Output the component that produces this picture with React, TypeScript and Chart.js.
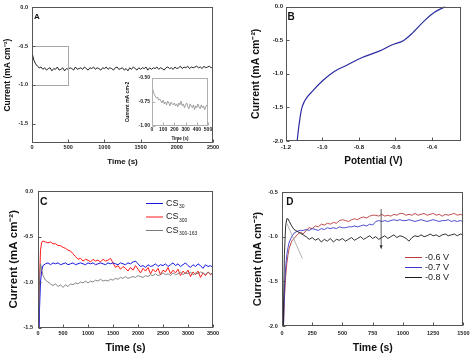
import React, { useEffect, useRef } from "react";
import { Chart, registerables } from "chart.js";

Chart.register(...registerables);

const FONT = "'Liberation Sans', Arial, Helvetica, sans-serif";

// ---------- Panel A: chronoamperometry 0-2500 s (sampled every 25 s) ----------
const aTime: number[] = Array.from({ length: 101 }, (_, i) => i * 25);
const aCurrent: number[] = [
  -0.58, -0.68, -0.73, -0.76, -0.78, -0.77, -0.80, -0.78, -0.81, -0.79, -0.78, -0.82, -0.79, -0.80, -0.77, -0.81, -0.80, -0.78, -0.82, -0.79,
  -0.80, -0.78, -0.79, -0.81, -0.77, -0.80, -0.79, -0.78, -0.80, -0.77, -0.79, -0.81, -0.78, -0.79, -0.77, -0.80, -0.78, -0.79, -0.81, -0.78,
  -0.79, -0.77, -0.80, -0.78, -0.79, -0.81, -0.78, -0.77, -0.80, -0.79, -0.78, -0.81, -0.79, -0.82, -0.78, -0.80, -0.77, -0.79, -0.81, -0.78,
  -0.80, -0.78, -0.79, -0.77, -0.81, -0.78, -0.80, -0.78, -0.79, -0.77, -0.80, -0.78, -0.79, -0.81, -0.78, -0.77, -0.79, -0.78, -0.80, -0.77,
  -0.79, -0.78, -0.76, -0.79, -0.77, -0.78, -0.76, -0.79, -0.77, -0.78, -0.77, -0.76, -0.78, -0.77, -0.79, -0.76, -0.78, -0.77, -0.76, -0.78, -0.77,
];
const aZoomBox = { x0: 0, x1: 500, y0: -0.5, y1: -1.0 };

// Inset: first 500 s (every 10 s)
const insetTime: number[] = Array.from({ length: 51 }, (_, i) => i * 10);
const insetCurrent: number[] = [
  -0.60, -0.63, -0.67, -0.69, -0.71, -0.70, -0.73, -0.72, -0.74, -0.76,
  -0.73, -0.77, -0.75, -0.78, -0.74, -0.76, -0.79, -0.75, -0.77, -0.78,
  -0.76, -0.79, -0.77, -0.80, -0.76, -0.78, -0.74, -0.79, -0.77, -0.81,
  -0.78, -0.76, -0.80, -0.82, -0.77, -0.79, -0.81, -0.78, -0.83, -0.79,
  -0.81, -0.77, -0.80, -0.82, -0.78, -0.81, -0.79, -0.83, -0.80, -0.78, -0.79,
];

// ---------- Panel B: linear sweep ----------
const bPotential: number[] = [-1.139, -1.128, -1.115, -1.097, -1.052, -0.998, -0.935, -0.872, -0.782, -0.692, -0.62, -0.557, -0.512, -0.44, -0.386, -0.326];
const bCurrent: number[] = [-2.0, -1.75, -1.53, -1.4, -1.25, -1.1, -0.965, -0.88, -0.757, -0.667, -0.572, -0.507, -0.408, -0.209, -0.085, 0.0];
const bPotentialTicks: number[] = [-1.2, -1.0, -0.8, -0.6, -0.4];

// ---------- Panel C: three samples 0-3500 s ----------
const cTimeEarly: number[] = [15, 30, 50, 75, 100];
const cTime: number[] = cTimeEarly.concat(Array.from({ length: 68 }, (_, i) => 150 + i * 50));
const cCS30: number[] = [
  -1.7, -1.3, -1.0, -0.87, -0.82,
  -0.80, -0.79, -0.81, -0.79, -0.80, -0.79, -0.81, -0.80, -0.79, -0.81, -0.80, -0.79, -0.81, -0.80, -0.79, -0.80, -0.81, -0.79, -0.80, -0.79, -0.81, -0.80, -0.79, -0.80, -0.81, -0.79, -0.80, -0.79,
  -0.80, -0.81, -0.79, -0.80, -0.81, -0.79, -0.80, -0.78, -0.77, -0.80, -0.83, -0.82, -0.84, -0.81, -0.83, -0.82, -0.80, -0.83, -0.81, -0.82,
  -0.80, -0.83, -0.81, -0.79, -0.82, -0.80, -0.83, -0.81, -0.79, -0.82, -0.84, -0.81, -0.83, -0.80, -0.82, -0.85, -0.81, -0.83, -0.82, -0.84,
];
const cCS300: number[] = [
  -1.6, -1.0, -0.65, -0.56, -0.55,
  -0.56, -0.57, -0.56, -0.58, -0.58, -0.60, -0.60, -0.62, -0.63, -0.65, -0.66, -0.69, -0.72, -0.75, -0.74, -0.77, -0.75, -0.76, -0.78, -0.75, -0.77, -0.76, -0.78, -0.75, -0.77, -0.76, -0.74, -0.79,
  -0.84, -0.82, -0.86, -0.83, -0.85, -0.88, -0.84, -0.87, -0.82, -0.86, -0.90, -0.85, -0.88, -0.84, -0.91, -0.86, -0.89, -0.85, -0.92, -0.87,
  -0.89, -0.84, -0.91, -0.87, -0.90, -0.86, -0.93, -0.88, -0.91, -0.87, -0.94, -0.89, -0.92, -0.88, -0.95, -0.90, -0.93, -0.89, -0.92, -0.90,
];
const cCS300163: number[] = [
  -1.4, -0.95, -0.80, -0.86, -0.93,
  -0.98, -1.00, -1.02, -1.04, -1.02, -1.05, -1.03, -1.06, -1.03, -1.05, -1.02, -1.03, -1.01, -1.02, -1.00, -1.01, -0.99, -1.01, -0.99, -1.00, -0.98, -0.99, -0.97, -0.99, -0.98, -0.99, -0.97, -0.98,
  -0.96, -0.97, -0.95, -0.96, -0.94, -0.96, -0.95, -0.94, -0.95, -0.93, -0.94, -0.95, -0.93, -0.94, -0.92, -0.93, -0.91, -0.93, -0.92, -0.90,
  -0.92, -0.91, -0.93, -0.90, -0.92, -0.91, -0.89, -0.92, -0.90, -0.91, -0.89, -0.92, -0.90, -0.91, -0.89, -0.90, -0.92, -0.89, -0.91, -0.90,
];
const cLabels = [
  { main: "CS", sub: "30", color: "#1818e0" },
  { main: "CS", sub: "300", color: "#ff1a1a" },
  { main: "CS", sub: "300-163", color: "#7a7a7a" },
];

// ---------- Panel D: three potentials 0-1500 s ----------
const dTimeEarly: number[] = [10, 20, 30, 40, 50, 60, 80, 100, 125, 150];
const dTime: number[] = dTimeEarly.concat(Array.from({ length: 54 }, (_, i) => 175 + i * 25));
const dMinus06: number[] = [
  -2.1, -1.7, -1.45, -1.3, -1.2, -1.13, -1.05, -1.02, -0.98, -0.95,
  -0.97, -0.93, -0.90, -0.91, -0.88, -0.89, -0.86, -0.87, -0.85, -0.86, -0.84, -0.85, -0.82, -0.81,
  -0.82, -0.83, -0.81, -0.80, -0.81, -0.79, -0.78, -0.79, -0.77, -0.76, -0.76, -0.77, -0.75, -0.77, -0.76, -0.77, -0.75, -0.76, -0.74, -0.74,
  -0.76, -0.75, -0.76, -0.74, -0.76, -0.75, -0.74, -0.76, -0.75, -0.74, -0.76, -0.75, -0.77, -0.75, -0.76, -0.75, -0.74, -0.76, -0.75, -0.76,
];
const dMinus07: number[] = [
  -2.1, -1.6, -1.35, -1.2, -1.12, -1.06, -1.0, -0.96, -0.94, -0.93,
  -0.93, -0.92, -0.93, -0.91, -0.92, -0.93, -0.91, -0.92, -0.90, -0.91, -0.90, -0.91, -0.89, -0.90,
  -0.90, -0.89, -0.89, -0.88, -0.89, -0.88, -0.87, -0.88, -0.86, -0.87, -0.83, -0.82, -0.83, -0.82, -0.83, -0.82, -0.81, -0.82, -0.81, -0.82,
  -0.82, -0.81, -0.82, -0.83, -0.82, -0.81, -0.82, -0.83, -0.82, -0.81, -0.82, -0.83, -0.82, -0.82, -0.81, -0.83, -0.82, -0.83, -0.82, -0.83,
];
const dMinus08: number[] = [
  -2.0, -1.2, -0.88, -0.80, -0.80, -0.83, -0.88, -0.92, -0.94, -0.96,
  -0.98, -1.00, -1.03, -1.01, -1.04, -1.02, -1.06, -1.03, -1.05, -1.02, -1.06, -1.03, -1.04, -1.02,
  -1.05, -1.03, -1.01, -1.04, -1.02, -1.00, -1.03, -1.01, -0.99, -1.02, -1.00, -1.03, -1.01, -0.99, -1.02, -1.00, -0.98, -1.01, -0.99, -1.00,
  -1.02, -1.05, -1.01, -0.99, -1.00, -0.98, -1.00, -0.99, -0.97, -0.99, -0.98, -1.00, -0.98, -0.97, -0.99, -0.98, -0.97, -0.99, -0.97, -0.98,
];
const dLabels = [
  { main: "-0.6 V", color: "#b83a3a" },
  { main: "-0.7 V", color: "#3a3ac8" },
  { main: "-0.8 V", color: "#1a1a1a" },
];
// annotation arrows (data coordinates)
const dArrows = [
  { x0: 41, y0: -0.855, x1: 169, y1: -1.246, color: "#a0a0a0", head: false },
  { x0: 820, y0: -0.69, x1: 820, y1: -1.13, color: "#333333", head: true },
];

const YTITLE = "Current (mA cm\u207B\u00B2)";

// ---------- helpers ----------
const pts = (xs: number[], ys: number[]) => ys.map((y, i) => ({ x: xs[i], y }));

type AxisSpec = {
  min: number; max: number; step: number; dec: number; title: string;
  titleSize: number; titlePad: number; tickSize: number; tickPad: number; size: number;
  tickList?: number[];
};

function axis(s: AxisSpec, horizontal: boolean) {
  return {
    type: "linear",
    min: s.min,
    max: s.max,
    afterFit: (sc: any) => {
      if (horizontal) sc.height = s.size;
      else sc.width = s.size;
    },
    afterBuildTicks: (sc: any) => {
      if (s.tickList) sc.ticks = s.tickList.map((v) => ({ value: v }));
    },
    ticks: {
      stepSize: s.step,
      includeBounds: false,
      autoSkip: false,
      maxRotation: 0,
      padding: s.tickPad,
      color: "#222",
      font: { family: FONT, size: s.tickSize, weight: "bold" },
      callback: (v: any) => Number(v).toFixed(s.dec),
    },
    grid: { display: true, drawOnChartArea: false, drawTicks: false },
    border: { display: false },
    title: {
      display: true,
      text: s.title,
      color: "#111",
      font: { family: FONT, size: s.titleSize, weight: "bold" },
      padding: horizontal ? { top: 0, bottom: s.titlePad } : { top: s.titlePad, bottom: 0 },
    },
  };
}

const decoPlugin = {
  id: "deco",
  afterDraw(chart: any, _a: any, o: any) {
    const { ctx, chartArea: ca, scales } = chart;
    const sx = scales.x, sy = scales.y;
    ctx.save();
    const L = Math.round(ca.left) + 0.5, R = Math.round(ca.right) - 0.5;
    const T = Math.round(ca.top) + 0.5, B = Math.round(ca.bottom) - 0.5;
    (o.rects || []).forEach((r: any) => {
      const x0 = Math.round(sx.getPixelForValue(r.x0)) + 0.5, x1 = Math.round(sx.getPixelForValue(r.x1)) + 0.5;
      const y0 = Math.round(sy.getPixelForValue(r.y0)) + 0.5, y1 = Math.round(sy.getPixelForValue(r.y1)) + 0.5;
      ctx.strokeStyle = r.color; ctx.lineWidth = 1;
      ctx.strokeRect(x0, y0, x1 - x0, y1 - y0);
    });
    (o.arrows || []).forEach((a: any) => {
      const x0 = sx.getPixelForValue(a.x0), y0 = sy.getPixelForValue(a.y0);
      const x1 = sx.getPixelForValue(a.x1), y1 = sy.getPixelForValue(a.y1);
      ctx.strokeStyle = a.color; ctx.lineWidth = 0.8;
      ctx.beginPath(); ctx.moveTo(x0, y0); ctx.lineTo(x1, y1); ctx.stroke();
      if (a.head) {
        ctx.fillStyle = a.color;
        ctx.beginPath(); ctx.moveTo(x1, y1 + 1); ctx.lineTo(x1 - 1.5, y1 - 3); ctx.lineTo(x1 + 1.5, y1 - 3); ctx.closePath(); ctx.fill();
      }
    });
    ctx.strokeStyle = o.frame || "#555"; ctx.lineWidth = 1;
    ctx.strokeRect(L, T, R - L, B - T);
    ctx.beginPath();
    sx.ticks.forEach((t: any) => {
      const p = Math.round(sx.getPixelForValue(t.value)) + 0.5;
      ctx.moveTo(p, B); ctx.lineTo(p, B - 3);
    });
    sy.ticks.forEach((t: any) => {
      const p = Math.round(sy.getPixelForValue(t.value)) + 0.5;
      ctx.moveTo(L, p); ctx.lineTo(L + 3, p);
    });
    ctx.stroke();
    if (o.letter) {
      ctx.fillStyle = "#111";
      ctx.font = `bold ${o.letter.size}px ${FONT}`;
      ctx.textBaseline = "alphabetic"; ctx.textAlign = "left";
      ctx.fillText(o.letter.text, ca.left + o.letter.dx, ca.top + o.letter.dy);
    }
    if (o.legend) {
      const lg = o.legend;
      lg.items.forEach((it: any, i: number) => {
        const y = lg.rows[i];
        ctx.strokeStyle = it.color; ctx.lineWidth = 1;
        ctx.beginPath(); ctx.moveTo(lg.x0, y + 0.5); ctx.lineTo(lg.x1, y + 0.5); ctx.stroke();
        ctx.fillStyle = "#222";
        ctx.font = `${lg.size}px ${FONT}`;
        ctx.textBaseline = "middle"; ctx.textAlign = "left";
        ctx.fillText(it.main, lg.tx, y + 0.5);
        if (it.sub) {
          const w = ctx.measureText(it.main).width;
          ctx.font = `${lg.subSize}px ${FONT}`;
          ctx.fillText(it.sub, lg.tx + w + 0.5, y + 4);
        }
      });
    }
    ctx.restore();
  },
};

function lineDs(data: any[], color: string, width = 1, extra: any = {}) {
  return {
    data,
    borderColor: color,
    backgroundColor: color,
    borderWidth: width,
    pointRadius: 0,
    tension: 0,
    fill: false,
    ...extra,
  };
}

function build(canvas: HTMLCanvasElement, datasets: any[], xs: AxisSpec, ys: AxisSpec, padding: any, deco: any) {
  return new Chart(canvas, {
    type: "line",
    data: { datasets },
    options: {
      responsive: false,
      animation: false,
      devicePixelRatio: 1,
      layout: { padding },
      plugins: { legend: { display: false }, tooltip: { enabled: false }, deco } as any,
      scales: { x: axis(xs, true), y: axis(ys, false) } as any,
    },
    plugins: [decoPlugin],
  } as any);
}

export default function App() {
  const aRef = useRef<HTMLCanvasElement>(null);
  const insRef = useRef<HTMLCanvasElement>(null);
  const bRef = useRef<HTMLCanvasElement>(null);
  const cRef = useRef<HTMLCanvasElement>(null);
  const dRef = useRef<HTMLCanvasElement>(null);

  useEffect(() => {
    const charts: Chart[] = [];
    charts.push(
      build(
        aRef.current!,
        [lineDs(pts(aTime, aCurrent), "#111", 0.9)],
        { min: 0, max: 2500, step: 500, dec: 0, title: "Time (s)", titleSize: 8, titlePad: 10.5, tickSize: 5.5, tickPad: 1.5, size: 34 },
        { min: -1.75, max: 0, step: 0.5, dec: 1, title: YTITLE, titleSize: 8.5, titlePad: 3, tickSize: 5.5, tickPad: 4, size: 32 },
        { left: 0, top: 6, right: 24, bottom: 0 },
        { letter: { text: "A", size: 8, dx: 2, dy: 12 }, rects: [{ ...aZoomBox, color: "#a8a8a8" }] }
      )
    );
    charts.push(
      build(
        insRef.current!,
        [lineDs(pts(insetTime, insetCurrent), "#8a8a8a", 0.8)],
        { min: 0, max: 500, step: 100, dec: 0, title: "Time (s)", titleSize: 4.5, titlePad: 3, tickSize: 5, tickPad: 1, size: 18 },
        { min: -1.0, max: -0.5, step: 0.25, dec: 2, title: "Current mA cm-2", titleSize: 5, titlePad: 4.5, tickSize: 5, tickPad: 2, size: 32 },
        { left: 0, top: 6, right: 7, bottom: 0 },
        { frame: "#b0b0b0" }
      )
    );
    charts.push(
      build(
        bRef.current!,
        [lineDs(pts(bPotential, bCurrent), "#2c2ca0", 1.2, { cubicInterpolationMode: "monotone" })],
        { min: -1.2, max: -0.24, step: 0.2, dec: 1, title: "Potential (V)", titleSize: 10, titlePad: 10, tickSize: 6, tickPad: 2.5, size: 36, tickList: bPotentialTicks },
        { min: -2, max: 0, step: 0.5, dec: 1, title: YTITLE, titleSize: 10.5, titlePad: 13, tickSize: 6, tickPad: 3, size: 49 },
        { left: 0, top: 6, right: 13, bottom: 0 },
        { letter: { text: "B", size: 10, dx: 1.5, dy: 13 } }
      )
    );
    charts.push(
      build(
        cRef.current!,
        [
          lineDs(pts(cTime, cCS300163), cLabels[2].color, 0.9),
          lineDs(pts(cTime, cCS30), cLabels[0].color, 1),
          lineDs(pts(cTime, cCS300), cLabels[1].color, 1),
        ],
        { min: 0, max: 3500, step: 500, dec: 0, title: "Time (s)", titleSize: 10.5, titlePad: 0, tickSize: 5.5, tickPad: 2.8, size: 26.5 },
        { min: -1.5, max: 0, step: 0.5, dec: 1, title: YTITLE, titleSize: 11.5, titlePad: 7, tickSize: 5.5, tickPad: 5, size: 38 },
        { left: 0, top: 14, right: 24, bottom: 0 },
        {
          letter: { text: "C", size: 10.5, dx: 2, dy: 14.3 },
          legend: { x0: 146, x1: 163, tx: 166, rows: [26, 39.5, 53], size: 9, subSize: 5, items: cLabels },
        }
      )
    );
    charts.push(
      build(
        dRef.current!,
        [
          lineDs(pts(dTime, dMinus08), dLabels[2].color, 0.9),
          lineDs(pts(dTime, dMinus07), dLabels[1].color, 0.9),
          lineDs(pts(dTime, dMinus06), dLabels[0].color, 0.9),
        ],
        { min: 0, max: 1500, step: 250, dec: 0, title: "Time (s)", titleSize: 10.5, titlePad: 0, tickSize: 5.5, tickPad: 4.5, size: 28 },
        { min: -2.0, max: -0.5, step: 0.5, dec: 1, title: YTITLE, titleSize: 11, titlePad: 14.4, tickSize: 5.5, tickPad: 4.3, size: 45 },
        { left: 0, top: 15, right: 8, bottom: 0 },
        {
          letter: { text: "D", size: 10, dx: 4.3, dy: 12.7 },
          arrows: dArrows,
          legend: { x0: 168, x1: 185, tx: 188, rows: [80, 90, 100], size: 9, subSize: 5, items: dLabels },
        }
      )
    );
    return () => charts.forEach((c) => c.destroy());
  }, []);

  const box = (l: number, t: number, w: number, h: number, ref: any) => (
    <div style={{ position: "absolute", left: l, top: t, width: w, height: h }}>
      <canvas ref={ref} width={w} height={h} style={{ display: "block", width: w, height: h }} />
    </div>
  );

  return (
    <div style={{ position: "absolute", left: 0, top: 0, width: 474, height: 354, background: "#fff", overflow: "hidden" }}>
      {box(0, 0, 237, 177, aRef)}
      {box(237, 0, 237, 177, bRef)}
      {box(0, 177, 237, 177, cRef)}
      {box(237, 177, 237, 177, dRef)}
      {box(120, 72, 95, 72, insRef)}
    </div>
  );
}
